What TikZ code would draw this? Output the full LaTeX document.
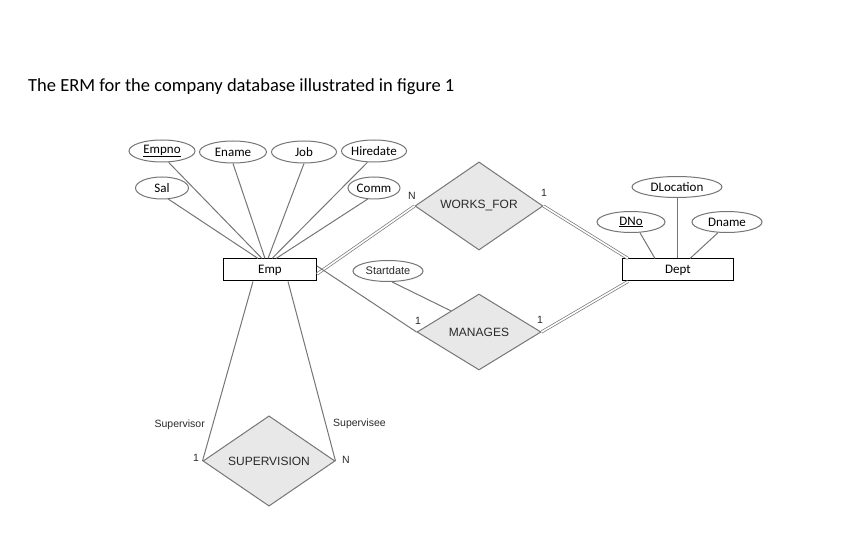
\documentclass[tikz,border=0pt]{standalone}
\usepackage{fontspec}
\setmainfont{Carlito}
\newfontfamily\arl{Liberation Sans}
\usetikzlibrary{shapes.geometric,calc}
\definecolor{ln}{HTML}{767676}
\definecolor{tx}{HTML}{2A2A2A}
\begin{document}
\begin{tikzpicture}[x=1pt,y=-1pt,
 attr/.style={ellipse,draw=ln,line width=1pt,inner sep=0pt,font=\fontsize{13}{15}\selectfont},
 ent/.style={rectangle,draw=black,line width=1pt,inner sep=0pt,font=\fontsize{13}{15}\selectfont},
 rel/.style={diamond,draw=ln,fill=black!9,line width=1pt,inner sep=0pt,font=\arl\fontsize{12}{14}\selectfont,text=tx},
 lnk/.style={draw=ln,line width=1pt},
 dbl/.style={draw=ln,line width=0.7pt,double=white,double distance=1.6pt},
 lab/.style={font=\arl\fontsize{10.5}{12}\selectfont,text=tx,inner sep=0pt}]
\useasboundingbox (0,0) rectangle (847,540);
\fill[white] (0,0) rectangle (847,540);
\node[anchor=west,inner sep=0pt,font=\fontsize{18.5}{20}\selectfont] (title) at (28,87) {The ERM for the company database illustrated in figure 1};
% entities
\node[ent,minimum width=93pt,minimum height=22pt] (emp) at (270,270) {Emp};
\node[ent,minimum width=111pt,minimum height=22pt] (dept) at (678,270) {Dept};
% relationships
\node[rel,minimum width=128pt,minimum height=80pt] (wf) at (479,206) {WORKS\_FOR};
\node[rel,minimum width=124pt,minimum height=76pt] (mg) at (479,332) {MANAGES};
\node[rel,minimum width=132pt,minimum height=78pt] (sv) at (269,461) {SUPERVISION};
% attributes
\node[attr,minimum width=66pt,minimum height=22pt] (empno) at (162,151) {\underline{Empno}};
\node[attr,minimum width=67pt,minimum height=22pt] (ename) at (233,152) {Ename};
\node[attr,minimum width=65pt,minimum height=22pt] (job) at (304,152) {Job};
\node[attr,minimum width=65pt,minimum height=22pt] (hire) at (374,151) {Hiredate};
\node[attr,minimum width=53pt,minimum height=22pt] (sal) at (162,188) {Sal};
\node[attr,minimum width=52pt,minimum height=22pt] (comm) at (374,188) {Comm};
\node[attr,minimum width=70pt,minimum height=21pt,font=\arl\fontsize{11}{13}\selectfont,text=tx] (start) at (388,271) {Startdate};
\node[attr,minimum width=90pt,minimum height=21pt] (dloc) at (677,187) {DLocation};
\node[attr,minimum width=68pt,minimum height=21pt] (dno) at (631,222) {\underline{DNo}};
\node[attr,minimum width=70pt,minimum height=21pt] (dname) at (727,222) {Dname};
% attribute links
\draw[lnk] (empno.-60) -- ([xshift=-8pt]emp.north);
\draw[lnk] (ename.south) -- ([xshift=-5pt]emp.north);
\draw[lnk] (job.south) -- ([xshift=-2pt]emp.north);
\draw[lnk] (hire.-120) -- ([xshift=2pt]emp.north);
\draw[lnk] (sal.-60) -- ([xshift=-12pt]emp.north);
\draw[lnk] (comm.-120) -- ([xshift=6pt]emp.north);
\draw[lnk] (dno.-50) -- ([xshift=-23pt]dept.north);
\draw[lnk] (dloc.south) -- (dept.north-|dloc.south);
\draw[lnk] (dname.-130) -- ([xshift=12pt]dept.north);
\draw[lnk] (start.-70) -- ($(mg.north)!0.45!(mg.west)$);
% relationship links
\draw[dbl] ([yshift=-4pt]emp.east) -- (wf.west);
\draw[dbl] (wf.east) -- ([xshift=6pt]dept.north west);
\draw[lnk] ([yshift=4pt]emp.east) -- (mg.west);
\draw[dbl] (mg.east) -- ([xshift=6pt]dept.south west);
\draw[lnk] ([xshift=-17pt]emp.south) -- (sv.west);
\draw[lnk] ([xshift=18pt]emp.south) -- (sv.east);
% labels
\node[lab] (n1) at (412,196) {N};
\node[lab] (o1) at (544,193) {1};
\node[lab] (o2) at (418,321) {1};
\node[lab] (o3) at (540,320) {1};
\node[lab,anchor=east] (sup) at (205,425) {Supervisor};
\node[lab,anchor=west] (sue) at (333,424) {Supervisee};
\node[lab] (o4) at (196,458) {1};
\node[lab] (n2) at (346,460) {N};
\end{tikzpicture}
\end{document}
